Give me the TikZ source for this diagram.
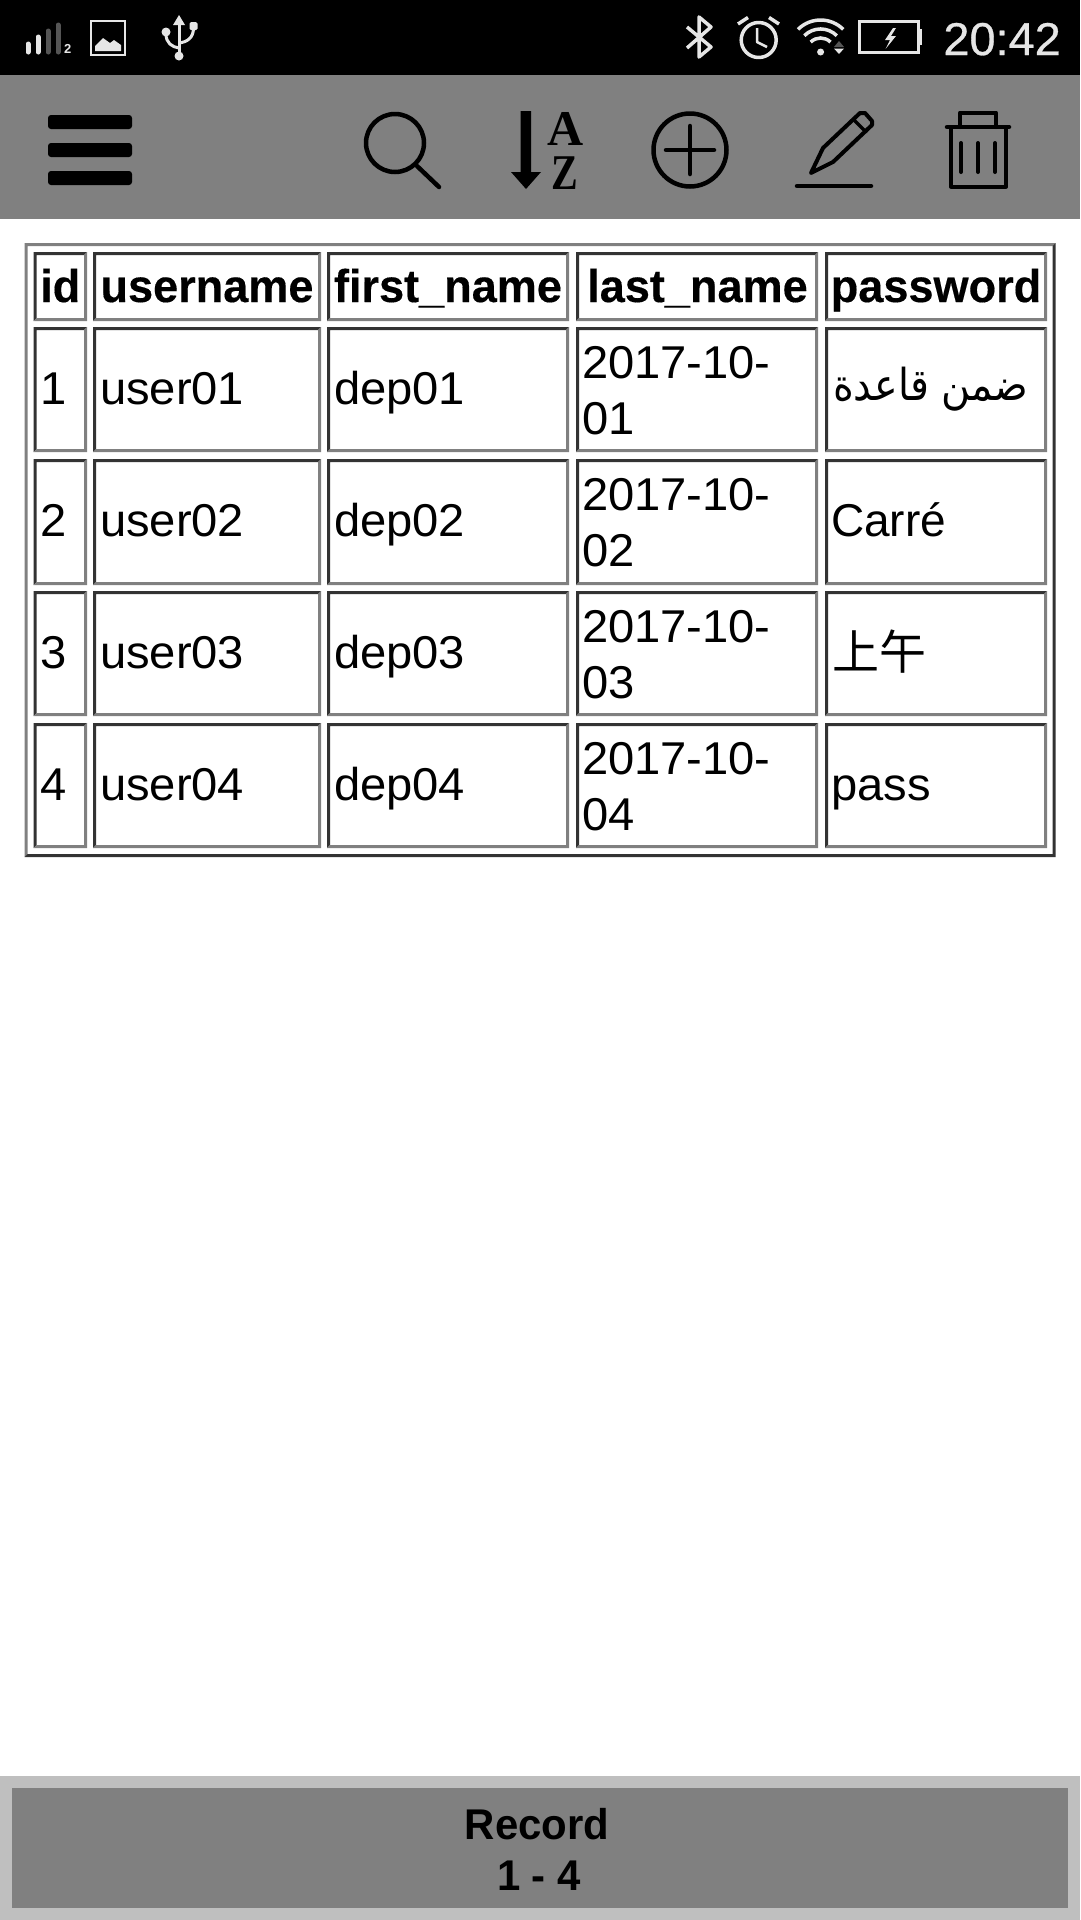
\documentclass[tikz,border=0pt]{standalone}
\usepackage{fontspec}
\setmainfont[FakeStretch=1.025]{Liberation Sans}
\newfontfamily\plainfont{Liberation Sans}
\newfontfamily\hdfont[FakeBold=0.3,FakeStretch=0.98]{Liberation Sans Bold}
\newfontfamily\recfont[FakeStretch=0.975]{Liberation Sans Bold}
\newfontfamily\clockfont[FakeBold=0.6,FakeStretch=1.02]{Liberation Sans}
\newfontfamily\smallfont{Liberation Sans Bold}
\newfontfamily\slabfont{Liberation Serif Bold}
\newfontfamily\slabzfont[FakeStretch=0.8]{Liberation Serif Bold}
\newfontfamily\arabicfont[Script=Arabic,FakeStretch=0.9]{DejaVu Sans}
\newfontfamily\cjkfont{Noto Sans CJK SC}
\TeXXeTstate=1
\definecolor{barDark}{HTML}{808080}
\definecolor{barLight}{HTML}{BFBFBF}
\definecolor{edgeDark}{HTML}{333333}
\definecolor{statusInk}{HTML}{E6E6E6}
\definecolor{statusDim}{HTML}{555555}
\tikzset{
  bodytext/.style={anchor=base west,inner sep=0pt,outer sep=0pt,font=\fontsize{46}{46}\selectfont,text=black},
  headtext/.style={anchor=base,inner sep=0pt,outer sep=0pt,font=\hdfont\fontsize{46}{46}\selectfont,text=black},
  recordtext/.style={anchor=base,inner sep=0pt,outer sep=0pt,font=\recfont\fontsize{43}{43}\selectfont,text=black},
  toolicon/.style={draw=black,line width=4.5pt,line cap=round,line join=round},
  statusicon/.style={draw=statusInk,line width=3pt,line join=round},
}
% x1 y1 x2 y2 colour-top-left colour-bottom-right
\newcommand{\bevelbox}[6]{%
  \fill[#5] (#1,#2) -- (#3,#2) -- ({#3-3},{#2+3}) -- ({#1+3},{#2+3}) -- ({#1+3},{#4-3}) -- (#1,#4) -- cycle;
  \fill[#6] (#3,#4) -- (#1,#4) -- ({#1+3},{#4-3}) -- ({#3-3},{#4-3}) -- ({#3-3},{#2+3}) -- (#3,#2) -- cycle;
}
\begin{document}
\begin{tikzpicture}[x=1pt,y=-1pt]
\useasboundingbox (0,0) rectangle (1080,1920);
\fill[white] (0,0) rectangle (1080,1920);
\fill[black] (0,0) rectangle (1080,75);
\fill[barDark] (0,75) rectangle (1080,219);

% ---- status bar, left
\foreach \x/\t/\c in {28/44/statusInk,38/37/statusInk,48/31/statusDim,58/25/statusDim}
  \draw[\c,line width=5pt,line cap=round] (\x,\t) -- (\x,52);
\node[anchor=base west,inner sep=0pt,text=statusInk,font=\smallfont\fontsize{13}{13}\selectfont] (simslot) at (64,53) {2};
\draw[statusInk,line width=2.5pt] (91,21) rectangle (125,55);
\fill[statusInk] (95,51) -- (95,46) -- (103,38) -- (110,43) -- (114,40) -- (121,45) -- (121,51) -- cycle;
% usb
\draw[statusInk,line width=3pt] (179,22) -- (179,56);
\fill[statusInk] (179,15) -- (185,25) -- (173,25) -- cycle;
\fill[statusInk] (179,56) circle[radius=4.5pt];
\fill[statusInk] (166,32) circle[radius=4.5pt];
\fill[statusInk,rounded corners=1.5pt] (189.5,22) rectangle (197.5,30);
\draw[statusInk,line width=3pt] (166,34) .. controls (166,43) and (172,47) .. (179,48);
\draw[statusInk,line width=3pt] (193.5,28) .. controls (193.5,38) and (187,42) .. (179,43);

% ---- status bar, right
\draw[statusicon,line width=3.5pt] (687,27) -- (711,47) -- (699,57) -- (699,17) -- (711,27) -- (687,48);
\draw[statusicon,line width=3.5pt] (758.7,40) circle[radius=17.5pt];
\draw[statusicon,line width=3.5pt] (738,24) -- (748,17.5);
\draw[statusicon,line width=3.5pt] (769,17.5) -- (779,24);
\draw[statusicon,line width=2.5pt] (757,28) -- (757,42) -- (767,47);
\fill[statusInk] (820.6,52) circle[radius=3.5pt];
\draw[statusInk,line width=3.5pt] (810.7,42.1) arc[start angle=135,end angle=45,radius=14pt];
\draw[statusInk,line width=3.5pt] (804.3,35.7) arc[start angle=135,end angle=45,radius=23pt];
\draw[statusInk,line width=3.5pt] (798,29.4) arc[start angle=135,end angle=45,radius=32pt];
\fill[statusDim] (839,41) -- (844,47) -- (834,47) -- cycle;
\fill[statusInk] (839,54) -- (844,48.5) -- (834,48.5) -- cycle;
\draw[statusInk,line width=2.5pt] (859.5,21.5) rectangle (918.5,52.5);
\fill[statusInk] (919,29) rectangle (922,45);
\fill[statusInk] (893,28) -- (885,40) -- (890,40) -- (885.5,49) -- (896,36) -- (891,36) -- (896,28) -- cycle;
\node[anchor=base east,inner sep=0pt,text=statusInk,font=\clockfont\fontsize{46}{46}\selectfont] (clock) at (1061,55) {20:42};

% ---- toolbar
\foreach \y in {115,143,171}
  \fill[black,rounded corners=3pt] (48,\y) rectangle (132,{\y+14});
\draw[toolicon] (395,143) circle[radius=29pt];
\draw[toolicon] (417,166) -- (439,187);
\fill[black] (520.5,111) -- (531,111) -- (531,172) -- (541,172) -- (526,189) -- (511,172) -- (520.5,172) -- cycle;
\node[anchor=base,inner sep=0pt,font=\slabfont\fontsize{50}{50}\selectfont] (sortA) at (565.5,145) {A};
\node[anchor=base,inner sep=0pt,font=\slabzfont\fontsize{50}{50}\selectfont] (sortZ) at (565,189) {Z};
\draw[toolicon] (690,150) circle[radius=36.5pt];
\draw[toolicon] (666,150) -- (714,150);
\draw[toolicon] (690,126) -- (690,174);
\draw[toolicon,line width=4pt] (811,173) -- (823,148) -- (860,113) -- (865,113) -- (872,121) -- (872,125) -- (833,162) -- cycle;
\draw[toolicon,line width=3.5pt] (853,119) -- (866,132);
\draw[toolicon] (797,186) -- (871,186);
\draw[toolicon] (947,127) -- (1009,127);
\draw[toolicon,line width=4pt] (960,127) -- (960,112.5) -- (996,112.5) -- (996,127);
\draw[toolicon,line width=4pt] (951,127) -- (951,186.5) -- (1006,186.5) -- (1006,127);
\foreach \x in {961,978,995}
  \draw[toolicon,line width=4pt] (\x,143) -- (\x,172);

% ---- table frame
\bevelbox{24.5}{243}{1055.5}{857}{barDark}{edgeDark}
% cells
\foreach \xa/\xb in {33.5/87,93/321,327/569,576/818,825/1047}
  \foreach \ya/\yb in {252/321,327/452,459/585,591/716,723/848}
    {\bevelbox{\xa}{\ya}{\xb}{\yb}{edgeDark}{barDark}}

% header
\node[headtext] (hid) at (60.2,302) {id};
\node[headtext] (huser) at (207,302) {username};
\node[headtext] (hfirst) at (448,302) {first\_name};
\node[headtext] (hlast) at (697.5,302) {last\_name};
\node[headtext] (hpass) at (936,302) {password};

% rows
\node[bodytext] (id1) at (40,404) {1};
\node[bodytext] (id2) at (40,536) {2};
\node[bodytext] (id3) at (40,668) {3};
\node[bodytext] (id4) at (40,800) {4};
\node[bodytext] (u1) at (100,404) {user01};
\node[bodytext] (u2) at (100,536) {user02};
\node[bodytext] (u3) at (100,668) {user03};
\node[bodytext] (u4) at (100,800) {user04};
\node[bodytext] (f1) at (334,404) {dep01};
\node[bodytext] (f2) at (334,536) {dep02};
\node[bodytext] (f3) at (334,668) {dep03};
\node[bodytext] (f4) at (334,800) {dep04};
\node[bodytext] (la1) at (582,378) {2017-10-};
\node[bodytext] (lb1) at (582,434) {01};
\node[bodytext] (la2) at (582,510) {2017-10-};
\node[bodytext] (lb2) at (582,566) {02};
\node[bodytext] (la3) at (582,642) {2017-10-};
\node[bodytext] (lb3) at (582,698) {03};
\node[bodytext] (la4) at (582,774) {2017-10-};
\node[bodytext] (lb4) at (582,830) {04};
\node[bodytext,font=\arabicfont\fontsize{44}{44}\selectfont] (p1) at (833,400) {\beginR ضمن قاعدة\endR};
\node[bodytext,font=\plainfont\fontsize{46}{46}\selectfont] (p2) at (831,536) {Carré};
\node[bodytext,font=\cjkfont\fontsize{47}{47}\selectfont] (p3) at (832,669) {上午};
\node[bodytext] (p4) at (831,800) {pass};

% ---- footer
\fill[barLight] (0,1776) rectangle (1080,1920);
\fill[barDark] (12,1788) rectangle (1068,1908);
\node[recordtext] (rec) at (537,1839) {Record};
\node[recordtext] (range) at (539,1890) {1 - 4};
\end{tikzpicture}
\end{document}
